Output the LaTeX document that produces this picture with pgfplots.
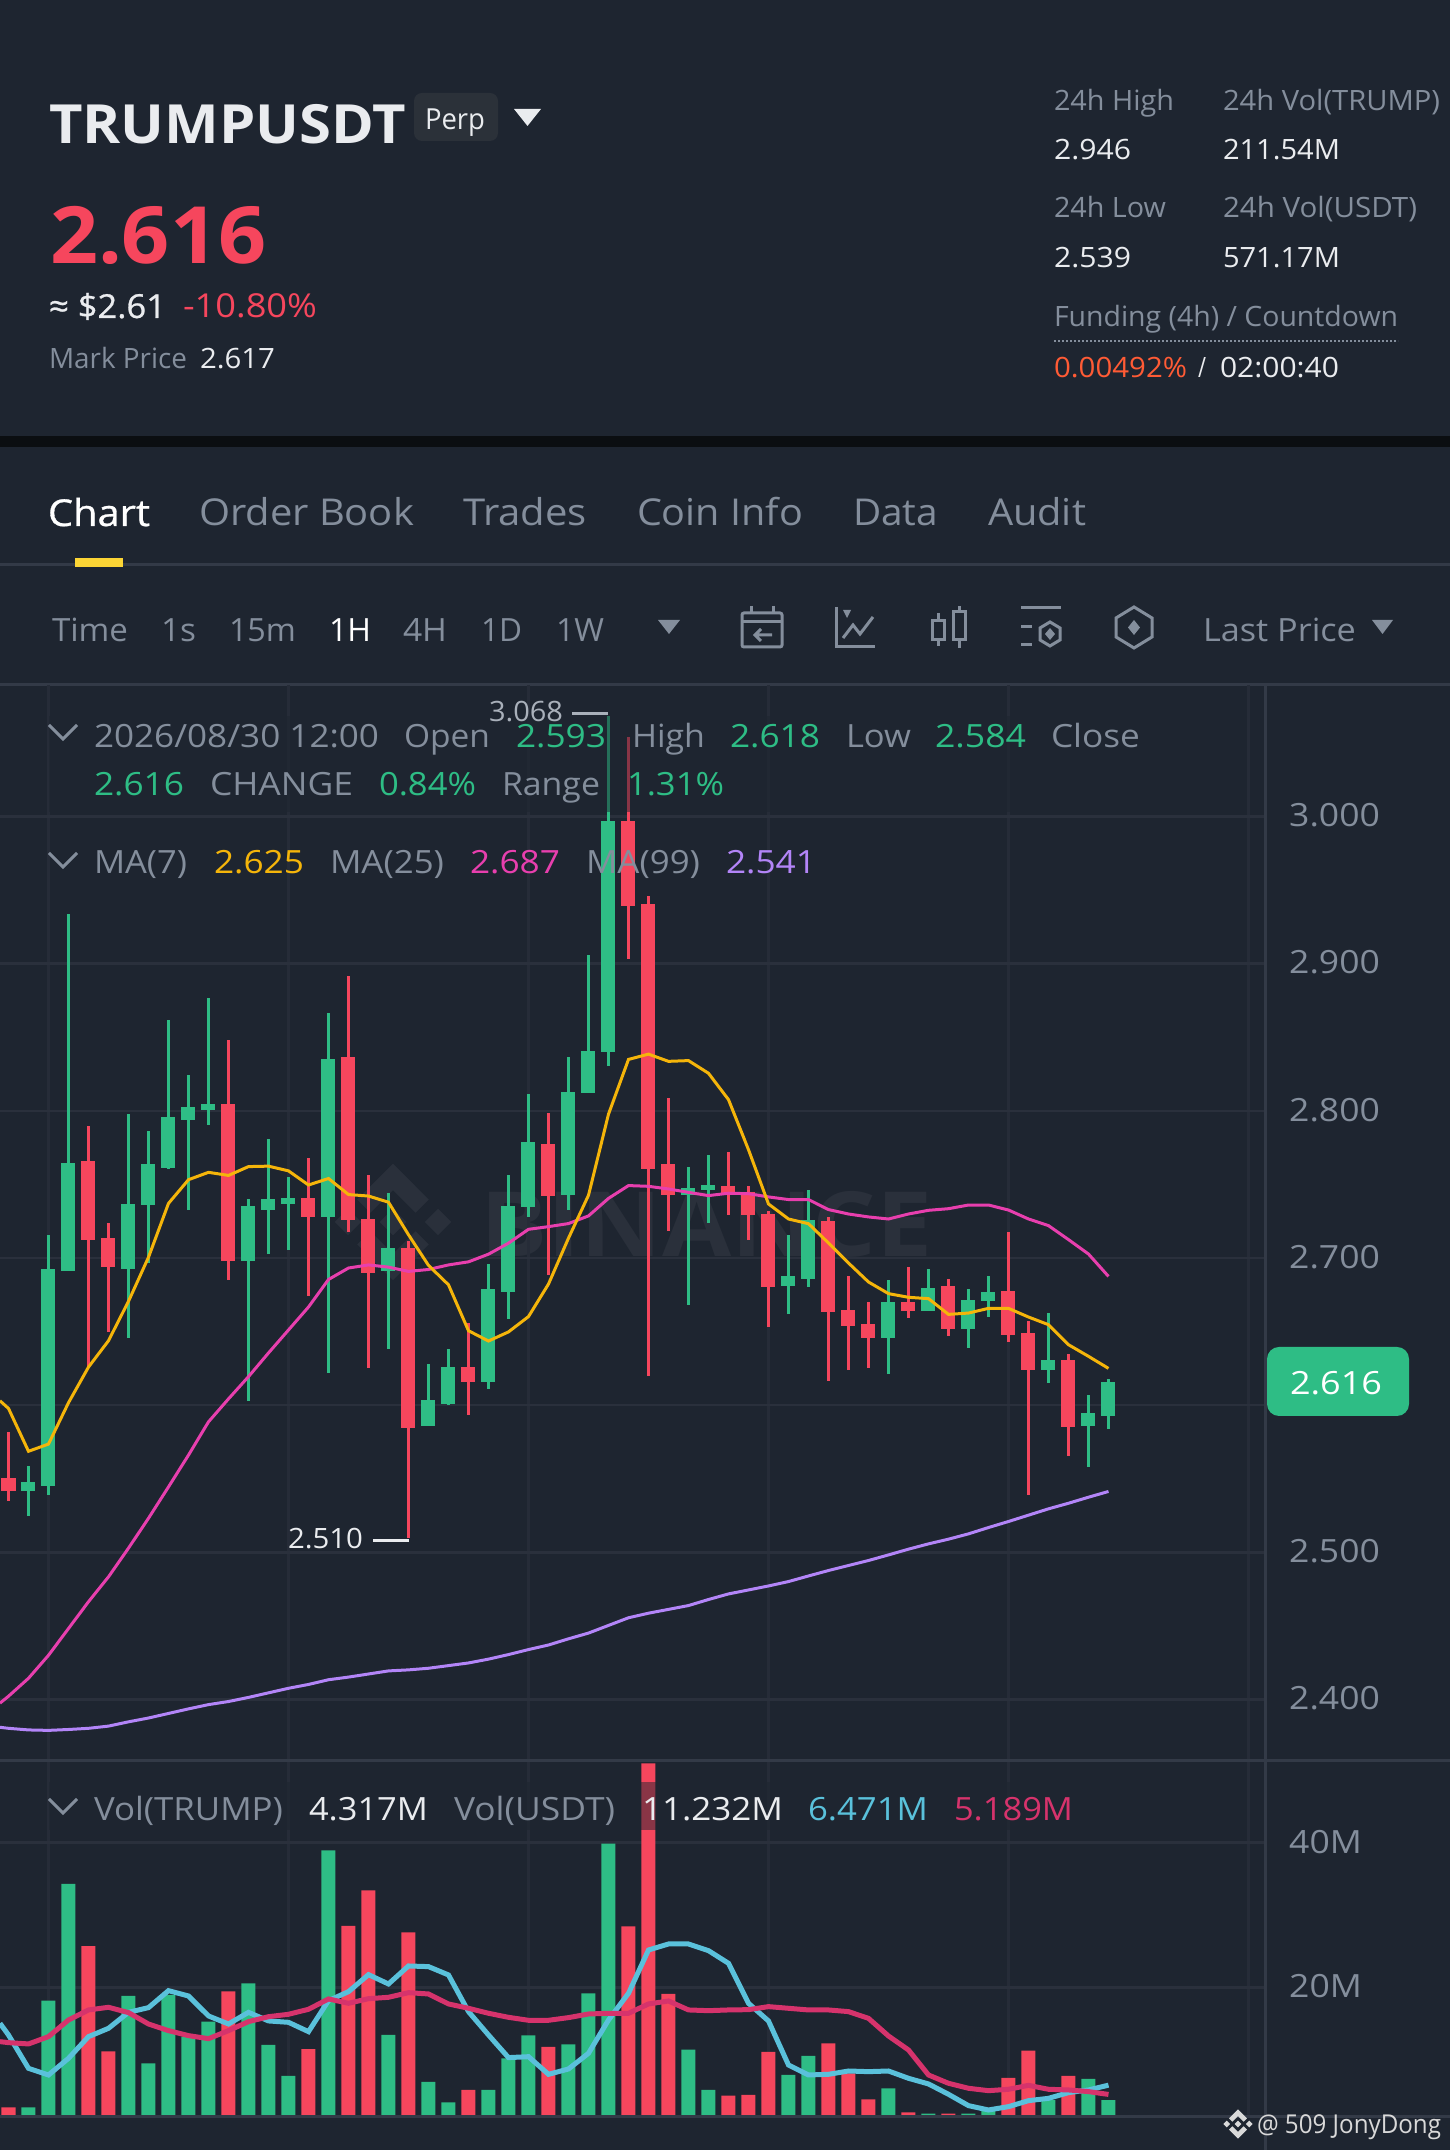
\documentclass[border=0pt]{standalone}
\usepackage{fontspec}
\usepackage{pgfplots}
\usepackage{pgfplotstable}
\pgfplotsset{compat=1.18}
\setmainfont{Open Sans}
\newfontfamily\tickfont[FakeStretch=1.11]{Open Sans}
\newfontfamily\medfont[FakeBold=0.8]{Open Sans}
\definecolor{bg}{HTML}{1E2530}
\definecolor{blk}{HTML}{0B0E11}
\definecolor{sep}{HTML}{333A47}
\definecolor{gridc}{HTML}{2A303C}
\definecolor{gridv}{HTML}{262C38}
\definecolor{mut}{HTML}{848E9C}
\definecolor{wht}{HTML}{EAECEF}
\definecolor{grn}{HTML}{2EBD85}
\definecolor{red2}{HTML}{F6465D}
\definecolor{yel}{HTML}{FCD535}
\definecolor{ma7}{HTML}{F5B50A}
\definecolor{ma25}{HTML}{E83FAE}
\definecolor{ma99}{HTML}{B385F8}
\definecolor{vma1}{HTML}{5AC1DB}
\definecolor{vma2}{HTML}{D6336C}
\definecolor{wm}{HTML}{2A303B}
\definecolor{chip}{HTML}{2B3139}
\definecolor{org}{HTML}{FF5B35}
\definecolor{iconc}{HTML}{848E9C}

\newcommand{\T}[6]{\node[anchor=base west,inner sep=0pt,outer sep=0pt,text=#3] at (#1,{2150-#2}) {\resizebox{#5pt}{\height}{\fontsize{#4}{#4}\selectfont #6}};}
\newcommand{\bnlogo}[4]{\begin{scope}[shift={(#1,{2150-#2})},scale=#3,shift={(-63.3,-63.3)}]
\fill[#4] (38.73,53.2)--(63.3,28.63)--(87.89,53.21)--(102.19,38.91)--(63.3,0)--(24.42,38.9)--cycle;
\fill[#4] (0,63.31)--(14.3,49.01)--(28.6,63.31)--(14.3,77.61)--cycle;
\fill[#4] (38.73,73.41)--(63.3,97.99)--(87.89,73.4)--(102.2,87.69)--(63.3,126.61)--(24.42,87.73)--cycle;
\fill[#4] (98,63.31)--(112.3,49.01)--(126.6,63.31)--(112.3,77.61)--cycle;
\fill[#4] (77.81,63.3)--(63.3,48.79)--(48.8,63.29)--(63.3,77.8)--cycle;
\end{scope}}

\pgfplotstableread{
n top bot high low
1 2.5479 2.5419 2.5588 2.5248
2 2.6927 2.5450 2.7156 2.5391
3 2.7647 2.6909 2.9334 2.6909
6 2.7366 2.6927 2.7977 2.6459
7 2.7636 2.7358 2.7865 2.6966
8 2.7956 2.7613 2.8614 2.7605
9 2.8024 2.7938 2.8245 2.7327
10 2.8047 2.8006 2.8765 2.7907
12 2.7356 2.6979 2.7400 2.6030
13 2.7400 2.7327 2.7808 2.7028
14 2.7408 2.7369 2.7548 2.7054
16 2.8354 2.7280 2.8666 2.6220
19 2.7067 2.6911 2.7444 2.6381
21 2.6035 2.5859 2.6277 2.5859
22 2.6259 2.6009 2.6381 2.6000
24 2.6787 2.6160 2.6958 2.6108
25 2.7356 2.6771 2.7566 2.6589
26 2.7787 2.7348 2.8115 2.7280
28 2.8125 2.7431 2.8365 2.7327
29 2.8406 2.8120 2.9056 2.8120
30 2.9969 2.8398 3.0680 2.8302
34 2.7478 2.7431 2.7616 2.6680
35 2.7499 2.7460 2.7700 2.7238
39 2.6880 2.6812 2.7159 2.6619
40 2.7256 2.6860 2.7460 2.6801
44 2.6699 2.6458 2.6850 2.6209
46 2.6798 2.6640 2.6927 2.6640
48 2.6717 2.6520 2.6789 2.6390
49 2.6769 2.6710 2.6880 2.6599
52 2.6309 2.6241 2.6628 2.6148
54 2.5946 2.5860 2.6069 2.5577
55 2.6160 2.5930 2.6180 2.5840
}\candG
\pgfplotstableread{
n top bot high low
0 2.5505 2.5420 2.5817 2.5349
4 2.7657 2.7120 2.7894 2.6264
5 2.7137 2.6938 2.7236 2.6498
11 2.8047 2.6979 2.8484 2.6849
15 2.7408 2.7280 2.7678 2.6740
17 2.8365 2.7257 2.8913 2.7176
18 2.7262 2.6901 2.7566 2.6251
20 2.7070 2.5848 2.7114 2.5100
23 2.6259 2.6160 2.6558 2.5931
27 2.7774 2.7418 2.7985 2.6888
31 2.9969 2.9389 3.0538 2.9030
32 2.9407 2.7608 2.9460 2.6200
33 2.7639 2.7431 2.8086 2.7181
36 2.7487 2.7437 2.7721 2.7290
37 2.7446 2.7290 2.7487 2.7120
38 2.7299 2.6801 2.7320 2.6529
41 2.7249 2.6631 2.7279 2.6162
42 2.6649 2.6540 2.6880 2.6241
43 2.6549 2.6458 2.6701 2.6250
45 2.6699 2.6640 2.6939 2.6590
47 2.6810 2.6520 2.6860 2.6467
50 2.6778 2.6479 2.7179 2.6429
51 2.6488 2.6241 2.6569 2.5390
53 2.6309 2.5849 2.6350 2.5658
}\candR
\pgfplotstableread{
n p
-0.425 2.6030
0 2.5978
1 2.5687
2 2.5736
3 2.6017
4 2.6259
5 2.6438
6 2.6706
7 2.7005
8 2.7371
9 2.7532
10 2.7582
11 2.7561
12 2.7621
13 2.7624
14 2.7592
15 2.7496
16 2.7540
17 2.7431
18 2.7421
19 2.7379
20 2.7158
21 2.6950
22 2.6818
23 2.6506
24 2.6436
25 2.6498
26 2.6602
27 2.6823
28 2.7135
29 2.7426
30 2.7977
31 2.8349
32 2.8385
33 2.8336
34 2.8341
35 2.8255
36 2.8076
37 2.7736
38 2.7367
39 2.7265
40 2.7233
41 2.7102
42 2.6966
43 2.6837
44 2.6758
45 2.6733
46 2.6724
47 2.6617
48 2.6626
49 2.6658
50 2.6658
51 2.6599
52 2.6547
53 2.6411
54 2.6332
55 2.6250
}\maS
\pgfplotstableread{
n p
-0.425 2.3976
0 2.4023
1 2.4145
2 2.4301
3 2.4483
4 2.4665
5 2.4834
6 2.5029
7 2.5232
8 2.5445
9 2.5661
10 2.5887
11 2.6043
12 2.6194
13 2.6355
14 2.6511
15 2.6667
16 2.6854
17 2.6932
18 2.6953
19 2.6938
20 2.6909
21 2.6922
22 2.6953
23 2.6974
24 2.7026
25 2.7101
26 2.7195
27 2.7213
28 2.7234
29 2.7286
30 2.7405
31 2.7492
32 2.7487
33 2.7469
34 2.7446
35 2.7424
36 2.7440
37 2.7437
38 2.7415
39 2.7397
40 2.7397
41 2.7329
42 2.7299
43 2.7279
44 2.7265
45 2.7299
46 2.7324
47 2.7335
48 2.7360
49 2.7360
50 2.7326
51 2.7265
52 2.7220
53 2.7125
54 2.7027
55 2.6875
}\maM
\pgfplotstableread{
n p
-0.425 2.3812
0 2.3805
1 2.3794
2 2.3791
3 2.3797
4 2.3805
5 2.3820
6 2.3849
7 2.3875
8 2.3906
9 2.3937
10 2.3966
11 2.3987
12 2.4015
13 2.4046
14 2.4077
15 2.4103
16 2.4135
17 2.4153
18 2.4174
19 2.4195
20 2.4202
21 2.4213
22 2.4231
23 2.4249
24 2.4275
25 2.4306
26 2.4340
27 2.4371
28 2.4413
29 2.4452
30 2.4504
31 2.4556
32 2.4587
33 2.4613
34 2.4639
35 2.4680
36 2.4718
37 2.4745
38 2.4772
39 2.4802
40 2.4840
41 2.4877
42 2.4911
43 2.4945
44 2.4983
45 2.5022
46 2.5058
47 2.5090
48 2.5126
49 2.5169
50 2.5210
51 2.5253
52 2.5296
53 2.5334
54 2.5375
55 2.5414
}\maL
\pgfplotstableread{
n v
1 3.41
2 18.16
3 34.29
6 18.80
7 9.49
8 18.94
9 13.18
10 15.25
12 20.55
13 12.03
14 7.74
16 38.94
19 13.41
21 6.91
22 4.10
24 5.81
25 10.18
26 13.36
28 12.12
29 19.17
30 39.86
34 11.38
35 5.81
39 7.88
40 10.51
44 6.04
46 2.53
48 2.53
49 3.27
52 4.42
54 7.33
55 4.42
}\volG
\pgfplotstableread{
n v
0 3.41
4 25.71
5 11.15
11 19.45
15 11.47
17 28.48
18 33.41
20 27.60
23 5.81
27 11.75
31 28.43
32 50.97
33 19.08
36 5.02
37 5.12
38 11.06
41 12.26
42 8.11
43 4.52
45 2.72
47 2.53
50 7.47
51 11.24
53 7.74
}\volR
\pgfplotstableread{
n v
-0.425 15.02
0 13.41
1 8.80
2 7.88
3 10.18
4 13.18
5 14.33
6 16.54
7 17.19
8 19.54
9 18.80
10 16.04
11 14.93
12 16.54
13 15.35
14 15.16
15 13.87
16 18.16
17 19.40
18 21.75
19 20.46
20 22.95
21 22.86
22 21.71
23 16.64
24 13.41
25 10.28
26 10.41
27 7.97
28 8.71
29 10.88
30 15.48
31 19.17
32 25.16
33 25.99
34 25.99
35 25.07
36 23.32
37 17.79
38 15.35
39 9.26
40 7.88
41 7.97
42 8.43
43 8.34
44 8.43
45 7.42
46 6.64
47 5.21
48 3.64
49 3.04
50 3.50
51 4.33
52 4.65
53 5.44
54 5.81
55 6.47
}\vmaA
\pgfplotstableread{
n v
-0.425 12.49
0 12.35
1 12.17
2 13.18
3 15.48
4 16.87
5 17.24
6 16.50
7 14.93
8 14.01
9 13.32
10 12.90
11 14.01
12 15.25
13 15.94
14 16.27
15 16.96
16 18.39
17 17.79
18 18.43
19 18.62
20 19.26
21 19.08
22 17.70
23 17.10
24 16.41
25 15.85
26 15.44
27 15.44
28 15.81
29 16.31
30 16.41
31 16.41
32 17.70
33 18.11
34 16.87
35 16.77
36 16.87
37 16.91
38 17.33
39 17.10
40 16.87
41 16.87
42 16.64
43 15.71
44 13.27
45 11.34
46 7.88
47 6.73
48 6.04
49 5.71
50 5.90
51 6.45
52 5.90
53 5.81
54 5.58
55 5.19
}\vmaB

\pgfplotsset{
  chart/.style={
    scale only axis, anchor=south west,
    xmin=-0.425, xmax=62.825,
    axis line style={draw=none}, tick style={draw=none},
    xtick={2,14,26,38,50,62}, xticklabels={},
    yticklabel pos=right,
    grid=major, x grid style={color=gridv,line width=2.2pt}, y grid style={color=gridc,line width=2.4pt},
    scaled y ticks=false,
    y tick label style={/pgf/number format/fixed,/pgf/number format/assume math mode=true,
      font=\tickfont\fontsize{32}{32}\selectfont, text=mut, anchor=west, inner sep=0pt, xshift=24pt, yshift=1pt},
  },
  wick/.style={draw=none,no marks,forget plot,
    error bars/.cd,y dir=both,y explicit,error mark=none,error bar style={draw=#1,line width=2.4pt}},
  body/.style={draw=none,no marks,forget plot,
    error bars/.cd,y dir=both,y explicit,error mark=none,error bar style={draw=#1,line width=14pt}},
}

\begin{document}
\begin{tikzpicture}[x=1pt,y=1pt,px/.style={shift={(0,2150)},yscale=-1}]
\useasboundingbox (0,0) rectangle (1450,2150);
\fill[bg] (0,0) rectangle (1450,2150);
\begin{scope}[px]
\fill[blk] (0,436) rectangle (1450,447);
\fill[sep] (0,563.5) rectangle (1450,566.5);
\fill[sep] (0,683.5) rectangle (1450,686.5);
\fill[yel] (75,558) rectangle (123,567);
\end{scope}
% watermark
\bnlogo{393}{1222}{0.92}{wm}
\T{480}{1257}{wm}{90}{453}{\bfseries BINANCE}

% price panel
\begin{axis}[chart, at={(0pt,389pt)}, width=1265pt, height=1076pt,
  ymin=2.3583, ymax=3.0893,
  ytick={2.4,2.5,2.6,2.7,2.8,2.9,3.0},
  y tick label style={/pgf/number format/fixed zerofill,/pgf/number format/precision=3}]
\addplot[wick=grn] table[x=n,y expr=(\thisrow{high}+\thisrow{low})/2,y error expr=(\thisrow{high}-\thisrow{low})/2] {\candG};
\addplot[body=grn] table[x=n,y expr=(\thisrow{top}+\thisrow{bot})/2,y error expr=(\thisrow{top}-\thisrow{bot})/2] {\candG};
\addplot[wick=red2] table[x=n,y expr=(\thisrow{high}+\thisrow{low})/2,y error expr=(\thisrow{high}-\thisrow{low})/2] {\candR};
\addplot[body=red2] table[x=n,y expr=(\thisrow{top}+\thisrow{bot})/2,y error expr=(\thisrow{top}-\thisrow{bot})/2] {\candR};
\addplot[ma99,line width=3pt,no marks] table[x=n,y=p] {\maL};
\addplot[ma25,line width=3pt,no marks] table[x=n,y=p] {\maM};
\addplot[ma7,line width=3pt,no marks] table[x=n,y=p] {\maS};
\end{axis}

% volume panel
\begin{axis}[chart, at={(0pt,33pt)}, width=1265pt, height=356pt,
  ymin=2.07, ymax=51.29,
  ytick={20,40}, yticklabels={20M,40M}]
\addplot[ybar,bar width=14pt,bar shift=0pt,fill=grn,draw=none,forget plot] table[x=n,y=v] {\volG};
\addplot[ybar,bar width=14pt,bar shift=0pt,fill=red2,draw=none,forget plot] table[x=n,y=v] {\volR};
\addplot[vma1,line width=5pt,no marks] table[x=n,y=v] {\vmaA};
\addplot[vma2,line width=5pt,no marks] table[x=n,y=v] {\vmaB};
\end{axis}

\begin{scope}[px]
\fill[sep] (0,1759.5) rectangle (1450,1762.5);
\fill[sep] (0,2115.5) rectangle (1450,2118.5);
\fill[sep] (1264,685) rectangle (1267,2150);
% dim bands behind legends
\fill[bg,opacity=.5] (49,716) rectangle (1145,812);
\fill[bg,opacity=.5] (49,1782) rectangle (1076,1830);
% chevrons
\draw[mut,line width=3pt] (49,725)--(63,739)--(77,725);
\draw[mut,line width=3pt] (49,853)--(63,867)--(77,853);
\draw[mut,line width=3pt] (49,1799)--(63,1813)--(77,1799);
% price extremes leader lines
\fill[mut!70!white] (572,712.5) rectangle (608,715.5);
\fill[wht] (373,1539) rectangle (409,1542);
% current price box
\fill[grn,rounded corners=12pt] (1267,1347) rectangle (1409,1416);
% chip and triangles
\fill[chip,rounded corners=8pt] (414,93) rectangle (498,141);
\fill[wht] (514,109)--(541,109)--(527.5,126)--cycle;
\fill[iconc] (658,620)--(680,620)--(669,634)--cycle;
\fill[iconc] (1372,620)--(1393,620)--(1382.5,634)--cycle;
\draw[mut,line width=2.4pt,dash pattern=on 2pt off 2pt] (1054,341)--(1398,341);
% toolbar icons
\begin{scope}[iconc,line width=3pt]
\draw[rounded corners=2pt] (742,613) rectangle (782,647);
\draw (742,622)--(782,622) (751,606)--(751,613) (773,606)--(773,613);
\draw (772,635)--(755,635) (761,629)--(755,635)--(761,641);
\draw (836,607)--(836,647)--(875,647);
\fill (843,610)--(851,610)--(847,618)--cycle;
\draw (843,638)--(853,625)--(860,634)--(873,617);
\draw (932.5,621) rectangle (944,640);
\draw (938,613)--(938,621) (938,640)--(938,646);
\draw (953,612) rectangle (965,640);
\draw (959,606)--(959,612) (959,640)--(959,648);
\draw (1021,608)--(1061,608) (1021,627)--(1032,627) (1021,645)--(1032,645);
\draw (1050,622)--(1060,628)--(1060,640)--(1050,646)--(1040,640)--(1040,628)--cycle;
\fill (1050,628)--(1055,634)--(1050,640)--(1045,634)--cycle;
\draw (1134,607)--(1152,618)--(1152,637)--(1134,648)--(1116,637)--(1116,618)--cycle;
\fill (1134,620)--(1140,627.5)--(1134,635)--(1128,627.5)--cycle;
\end{scope}
\end{scope}

% header
\T{49}{144}{wht}{54}{357}{\bfseries TRUMPUSDT}
\T{425}{130}{wht}{29}{60}{Perp}
\T{50}{264}{red2}{79}{216}{\bfseries 2.616}
\T{49}{318}{wht}{33}{117}{\medfont ≈ \$2.61}
\T{183}{318}{red2}{33}{134}{-10.80\%}
\T{49}{369}{mut}{28}{138}{Mark Price}
\T{200}{369}{wht}{28}{75}{2.617}
\T{1054}{111}{mut}{28}{120}{24h High}
\T{1223}{111}{mut}{28}{217}{24h Vol(TRUMP)}
\T{1054}{160}{wht}{28}{77}{2.946}
\T{1223}{160}{wht}{28}{117}{211.54M}
\T{1054}{218}{mut}{28}{112}{24h Low}
\T{1223}{218}{mut}{28}{194}{24h Vol(USDT)}
\T{1054}{268}{wht}{28}{77}{2.539}
\T{1223}{268}{wht}{28}{117}{571.17M}
\T{1054}{327}{mut}{28}{344}{Funding (4h) / Countdown}
\T{1054}{378}{org}{28}{133}{0.00492\%}
\T{1198}{378}{wht}{28}{8}{/}
\T{1220}{378}{wht}{28}{119}{02:00:40}
% tabs
\T{48}{526}{white}{37}{102}{\medfont Chart}
\T{199}{526}{mut}{37}{215}{Order Book}
\T{463}{526}{mut}{37}{124}{Trades}
\T{637}{526}{mut}{37}{166}{Coin Info}
\T{853}{526}{mut}{37}{85}{Data}
\T{988}{526}{mut}{37}{98}{Audit}
% toolbar
\T{52}{642}{mut}{32}{76}{Time}
\T{161}{642}{mut}{32}{35}{1s}
\T{229}{642}{mut}{32}{67}{15m}
\T{329}{642}{white}{32}{42}{1H}
\T{403}{642}{mut}{32}{44}{4H}
\T{481}{642}{mut}{32}{41}{1D}
\T{556}{642}{mut}{32}{48}{1W}
\T{1203}{642}{mut}{32}{153}{Last Price}
% candle legend
\T{94}{748}{mut}{32}{285}{2026/08/30 12:00}
\T{404}{748}{mut}{32}{86}{Open}
\T{516}{748}{grn}{32}{90}{2.593}
\T{632}{748}{mut}{32}{73}{High}
\T{730}{748}{grn}{32}{90}{2.618}
\T{846}{748}{mut}{32}{65}{Low}
\T{935}{748}{grn}{32}{91}{2.584}
\T{1051}{748}{mut}{32}{89}{Close}
\T{94}{796}{grn}{32}{90}{2.616}
\T{210}{796}{mut}{32}{143}{CHANGE}
\T{379}{796}{grn}{32}{97}{0.84\%}
\T{502}{796}{mut}{32}{98}{Range}
\T{627}{796}{grn}{32}{97}{1.31\%}
\T{94}{874}{mut}{32}{93}{MA(7)}
\T{214}{874}{ma7}{32}{90}{2.625}
\T{330}{874}{mut}{32}{114}{MA(25)}
\T{470}{874}{ma25}{32}{90}{2.687}
\T{586}{874}{mut}{32}{114}{MA(99)}
\T{726}{874}{ma99}{32}{90}{2.541}
% extremes
\T{489}{722}{mut!70!white}{28}{74}{3.068}
\T{288}{1549}{wht}{28}{75}{2.510}
% current price
\T{1290}{1395}{white}{32}{92}{2.616}
% vol legend
\T{94}{1821}{mut}{32}{189}{Vol(TRUMP)}
\T{309}{1821}{wht}{32}{119}{4.317M}
\T{454}{1821}{mut}{32}{161}{Vol(USDT)}
\T{642}{1821}{wht}{32}{141}{11.232M}
\T{808}{1821}{vma1}{32}{120}{6.471M}
\T{954}{1821}{vma2}{32}{119}{5.189M}
% credit
\bnlogo{1238}{2124}{0.23}{white!85!black}
\T{1257}{2133}{white!85!black}{26}{184}{@ 509 JonyDong}
\end{tikzpicture}
\end{document}
